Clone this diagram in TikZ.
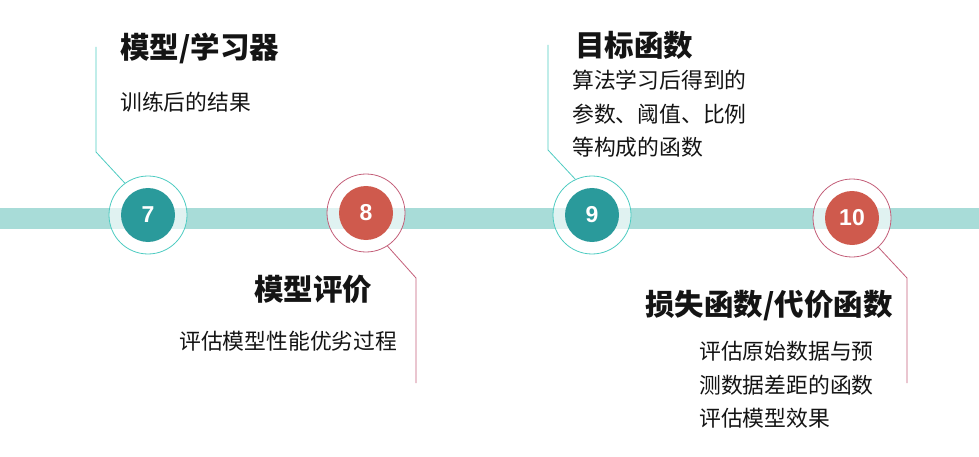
\documentclass[tikz,border=0pt]{standalone}
\usepackage{fontspec}
\usepackage{xcolor}
\usepackage{tikz}
\usetikzlibrary{positioning, calc}
\newfontfamily\cjk{Noto Sans CJK SC}
\setsansfont{Liberation Sans}
\definecolor{banda}{HTML}{A8DCD8}
\definecolor{cian}{HTML}{2A9A9B}
\definecolor{cianclaro}{HTML}{4FCCC2}
\definecolor{rojo}{HTML}{CF5A4D}
\definecolor{rosa}{HTML}{C4607A}
\definecolor{tinta}{HTML}{141414}
\tikzset{
  anillo/.style={circle, draw=#1, line width=0.8pt, fill=white, fill opacity=0.65,
                 minimum size=78pt, inner sep=0pt},
  punto/.style={circle, fill=#1, text=white, minimum size=54pt, inner sep=0pt,
                font=\sffamily\bfseries\fontsize{23}{23}\selectfont},
  titulo/.style={anchor=west, text=tinta, inner sep=0pt,
                 font=\cjk\bfseries\fontsize{29.5}{29.5}\selectfont},
  cuerpo/.style={anchor=north west, align=left, text=tinta, inner sep=0pt,
                 font=\cjk\fontsize{21.8}{33.5}\selectfont},
  guia/.style={draw=#1, line width=0.8pt},
}
\begin{document}
\begin{tikzpicture}[x=1pt, y=-1pt]
  \useasboundingbox[fill=white] (0,0) rectangle (979,457);
  % banda
  \fill[banda] (0,208) rectangle (979,229);
  % hitos
  \foreach \n/\x/\y/\c/\b in {7/148/215/cian/cianclaro, 8/366/213/rojo/rosa,
                              9/592/215/cian/cianclaro, 10/852/218/rojo/rosa} {
    \node[anillo=\b] (r\n) at (\x,\y) {};
    \node[punto=\c] (p\n) at (\x,\y) {\n};
  }
  % textos
  \node[titulo] (t7) at (120,48) {模型/学习器};
  \node[cuerpo] (b7) at (120,92) {训练后的结果};
  \node[titulo] (t8) at (254,289) {模型评价};
  \node[cuerpo] (b8) at (179,331) {评估模型性能优劣过程};
  \node[titulo] (t9) at (575,45) {目标函数};
  \node[cuerpo] (b9) at (572,70) {算法学习后得到的\\参数、阈值、比例\\等构成的函数};
  \node[titulo] (t10) at (645,306) {损失函数/代价函数};
  \node[cuerpo] (b10) at (699,341) {评估原始数据与预\\测数据差距的函数\\评估模型效果};
  % guias
  \coordinate (g7a) at (96,152);  \coordinate (g7b) at (96,47);
  \coordinate (g8a) at (416,278); \coordinate (g8b) at (416,383);
  \coordinate (g9a) at (548,150); \coordinate (g9b) at (548,45);
  \coordinate (g10a) at (907,278); \coordinate (g10b) at (907,383);
  \draw[guia=cianclaro] (r7.126) -- (g7a) -- (g7b);
  \draw[guia=rosa] (r8.-57) -- (g8a) -- (g8b);
  \draw[guia=cianclaro] (r9.115) -- (g9a) -- (g9b);
  \draw[guia=rosa] (r10.-48) -- (g10a) -- (g10b);
\end{tikzpicture}
\end{document}
